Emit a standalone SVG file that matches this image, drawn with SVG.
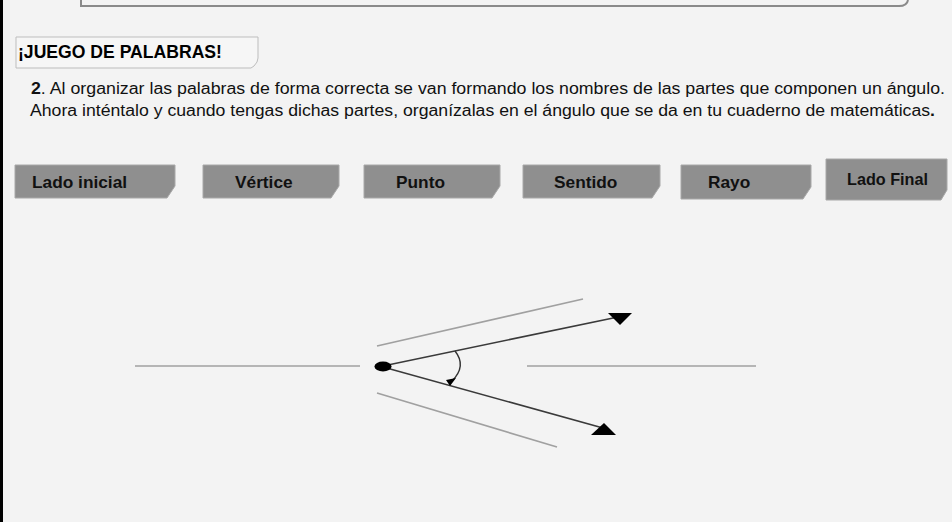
<svg xmlns="http://www.w3.org/2000/svg" width="952" height="522" viewBox="0 0 952 522">
<style>
  .btn { fill: #8f8f8f; stroke: #a8a8a8; stroke-width: 1; }
  .btxt { font-family: "Liberation Sans", Arial, sans-serif; font-weight: bold; font-size: 17.3px; fill: #111; }
  .para { font-family: "Liberation Sans", Arial, sans-serif; font-size: 17.3px; fill: #111; }
  .guide { stroke: #a0a0a0; stroke-width: 1.6; fill: none; }
  .ray { stroke: #3a3a3a; stroke-width: 1.6; fill: none; }
</style>
<rect x="0" y="0" width="952" height="522" fill="#f3f3f3"/>
<rect x="0" y="0" width="3" height="522" fill="#000"/>
<g id="top-box">
  <path d="M81,0 V6 H899 Q907,6 908,0" fill="none" stroke="#8a8a8a" stroke-width="2"/>
</g>
<g id="title">
  <path d="M16,37 H258 V58 Q258,62 254,66 L251,68 H16 Z" fill="#f6f6f6" stroke="#bdbdbd" stroke-width="1"/>
  <text x="18" y="58" font-family="Liberation Sans, Arial, sans-serif" font-weight="bold" font-size="17.6" fill="#000">¡JUEGO DE PALABRAS!</text>
</g>
<g id="instructions">
  <text class="para" x="31" y="94" textLength="914" lengthAdjust="spacingAndGlyphs"><tspan font-weight="bold">2</tspan>. Al organizar las palabras de forma correcta se van formando los nombres de las partes que componen un ángulo.</text>
  <text class="para" x="30" y="116" textLength="905" lengthAdjust="spacingAndGlyphs">Ahora inténtalo y cuando tengas dichas partes, organízalas en el ángulo que se da en tu cuaderno de matemáticas<tspan font-weight="bold">.</tspan></text>
</g>
<g id="btn-lado-inicial">
  <path class="btn" d="M15,165 H175 V186 L167,198 H15 Z"/>
  <text class="btxt" x="32" y="188">Lado inicial</text>
</g>
<g id="btn-vertice">
  <path class="btn" d="M203,165 H339 V186 L331,198 H203 Z"/>
  <text class="btxt" x="235" y="188">Vértice</text>
</g>
<g id="btn-punto">
  <path class="btn" d="M364,165 H500 V186 L492,198 H364 Z"/>
  <text class="btxt" x="396" y="188">Punto</text>
</g>
<g id="btn-sentido">
  <path class="btn" d="M523,165 H660 V186 L652,198 H523 Z"/>
  <text class="btxt" x="554" y="188">Sentido</text>
</g>
<g id="btn-rayo">
  <path class="btn" d="M681,165 H811 V187 L803,199 H681 Z"/>
  <text class="btxt" x="708" y="188">Rayo</text>
</g>
<g id="btn-lado-final">
  <path class="btn" d="M826,159 H947 V190 L941,200 H826 Z"/>
  <text class="btxt" x="847" y="185" textLength="81" lengthAdjust="spacingAndGlyphs">Lado Final</text>
</g>
<g id="angle-figure">
  <line class="guide" x1="135" y1="366" x2="360" y2="366"/>
  <line class="guide" x1="527" y1="366" x2="756" y2="366"/>
  <line class="guide" x1="377" y1="346" x2="583" y2="299"/>
  <line class="guide" x1="377" y1="393" x2="557" y2="447"/>
</g>
<g id="connectors">
  <line class="ray" x1="383" y1="366" x2="618" y2="317"/>
  <polygon points="608,313 632,313 620,325" fill="#000"/>
  <line class="ray" x1="383" y1="367" x2="603" y2="428"/>
  <polygon points="591,435 616,435 604,423" fill="#000"/>
  <path d="M455,351 Q467,366 452,381" fill="none" stroke="#333" stroke-width="1.4"/>
  <polygon points="446,380 456,378 450,386" fill="#000"/>
  <ellipse cx="383" cy="366.5" rx="8.5" ry="5" fill="#000"/>
</g>
</svg>
